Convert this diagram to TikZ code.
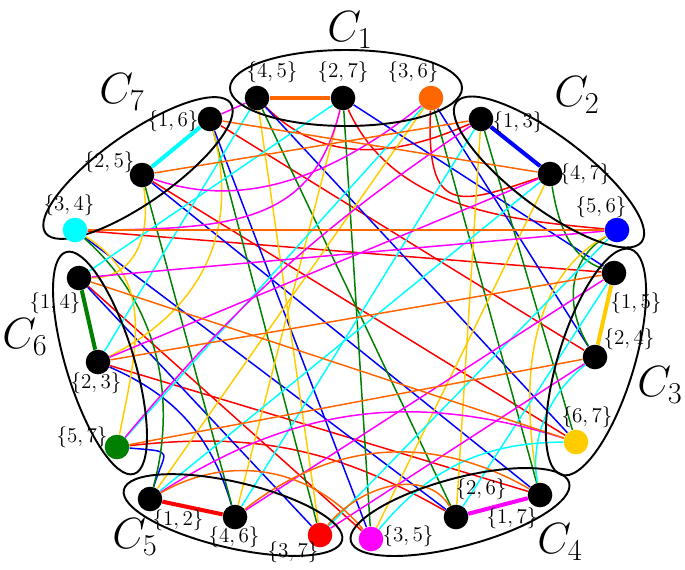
\documentclass[tikz,border=0pt]{standalone}
\usetikzlibrary{backgrounds}
\definecolor{corange}{RGB}{255,102,0}
\definecolor{cred}{RGB}{255,0,0}
\definecolor{cblue}{RGB}{0,0,255}
\definecolor{cyellow}{RGB}{255,204,0}
\definecolor{cmagenta}{RGB}{255,0,255}
\definecolor{cgreen}{RGB}{0,128,0}
\definecolor{ccyan}{RGB}{0,255,255}
\tikzset{
    vtx/.style={circle, fill=black, inner sep=0pt, minimum size=14pt},
    lab/.style={font=\fontsize{13}{15}\selectfont, inner sep=0pt},
    clab/.style={font=\fontsize{26}{30}\selectfont, inner sep=0pt},
    edge/.style={line width=0.85pt},
    thick edge/.style={line width=2.3pt},
    cluster/.style={draw, line width=1.1pt},
}
\begin{document}
\begin{tikzpicture}[x=0.02cm, y=-0.02cm]
    \useasboundingbox (0,0) rectangle (685,569);

    % vertices, cluster by cluster
    \node[vtx] (v45) at (257,98) {};
    \node[vtx] (v27) at (343,98) {};
    \node[vtx, fill=corange] (v36) at (431,98) {};
    \node[vtx] (v13) at (481,119) {};
    \node[vtx] (v47) at (550,174) {};
    \node[vtx, fill=cblue] (v56) at (617,230) {};
    \node[vtx] (v15) at (614,273) {};
    \node[vtx] (v24) at (595,357) {};
    \node[vtx, fill=cyellow] (v67) at (576,442) {};
    \node[vtx] (v17) at (540,495) {};
    \node[vtx] (v26) at (456,517) {};
    \node[vtx, fill=cmagenta] (v35) at (371,539) {};
    \node[vtx, fill=cred] (v37) at (320,535) {};
    \node[vtx] (v46) at (235,517) {};
    \node[vtx] (v12) at (150,499) {};
    \node[vtx, fill=cgreen] (v57) at (117,447) {};
    \node[vtx] (v23) at (98,362) {};
    \node[vtx] (v14) at (79,278) {};
    \node[vtx, fill=ccyan] (v34) at (75,230) {};
    \node[vtx] (v25) at (142,175) {};
    \node[vtx] (v16) at (210,119) {};

    % labels
    \node[lab] (l45) at (272,72) {$\{4,5\}$};
    \node[lab] (l27) at (343,72) {$\{2,7\}$};
    \node[lab] (l36) at (413,72) {$\{3,6\}$};
    \node[lab] (l13) at (518,122) {$\{1,3\}$};
    \node[lab] (l47) at (585,174) {$\{4,7\}$};
    \node[lab] (l56) at (601,207) {$\{5,6\}$};
    \node[lab] (l15) at (636,303) {$\{1,5\}$};
    \node[lab] (l24) at (629,339) {$\{2,4\}$};
    \node[lab] (l67) at (587,417) {$\{6,7\}$};
    \node[lab] (l26) at (481,489) {$\{2,6\}$};
    \node[lab] (l17) at (512,518) {$\{1,7\}$};
    \node[lab] (l35) at (408,536) {$\{3,5\}$};
    \node[lab] (l37) at (293,552) {$\{3,7\}$};
    \node[lab] (l46) at (234,537) {$\{4,6\}$};
    \node[lab] (l12) at (178,520) {$\{1,2\}$};
    \node[lab] (l57) at (82,437) {$\{5,7\}$};
    \node[lab] (l23) at (96,383) {$\{2,3\}$};
    \node[lab] (l14) at (55,303) {$\{1,4\}$};
    \node[lab] (l34) at (69,205) {$\{3,4\}$};
    \node[lab] (l25) at (109,162) {$\{2,5\}$};
    \node[lab] (l16) at (173,121) {$\{1,6\}$};

    % cluster names
    \node[clab] (c1) at (350,30) {$C_1$};
    \node[clab] (c2) at (577,95) {$C_2$};
    \node[clab] (c3) at (660,385) {$C_3$};
    \node[clab] (c4) at (560,542) {$C_4$};
    \node[clab] (c5) at (135,537) {$C_5$};
    \node[clab] (c6) at (25,337) {$C_6$};
    \node[clab] (c7) at (122,92) {$C_7$};

    \begin{scope}[on background layer]
    % edges, one colour at a time (a/b/bend)
    \foreach \a/\b/\bnd in {24/16/0, 15/34/0, 67/25/0, 35/14/0, 17/23/0, 26/57/-18}
        \draw[edge, cred] (v\a) to[bend left=\bnd] (v\b);
    \draw[edge, cred] (v36) .. controls +(-5,120) and +(-90,30) .. (v47);
    \draw[edge, cred] (v45) .. controls +(70,70) and +(-80,35) .. (v13);
    \draw[edge, cred] (v27) .. controls +(50,110) and +(-110,-10) .. (v56);

    \foreach \a/\b/\bnd in {27/15/0, 45/67/0, 36/24/0, 35/16/0, 26/34/0,
        17/25/0, 37/14/0, 46/23/-25}
        \draw[edge, cblue] (v\a) to[bend left=\bnd] (v\b);
    \draw[edge, cblue] (v57) .. controls +(60,5) and +(15,-50) .. (v12);

    \foreach \a/\b/\bnd in {27/35/0, 36/17/0, 45/26/0, 13/67/0, 46/25/0, 37/16/0}
        \draw[edge, cgreen] (v\a) to[bend left=\bnd] (v\b);
    \draw[edge, cgreen] (v47) .. controls +(10,60) and +(-40,-15) .. (v15);
    \draw[edge, cgreen] (v56) .. controls +(-50,30) and +(-30,-50) .. (v24);
    \draw[edge, cgreen] (v34) .. controls +(90,80) and +(25,-90) .. (v12);

    \foreach \a/\b/\bnd in {27/46/0, 36/12/0, 45/37/0, 13/26/0, 47/35/0}
        \draw[edge, cyellow] (v\a) to[bend left=\bnd] (v\b);
    \draw[edge, cyellow] (v56) .. controls +(-90,50) and +(-20,-110) .. (v17);
    \draw[edge, cyellow] (v34) .. controls +(80,50) and +(20,-100) .. (v57);
    \draw[edge, cyellow] (v25) .. controls +(10,70) and +(50,0) .. (v14);
    \draw[edge, cyellow] (v16) .. controls +(40,150) and +(60,-30) .. (v23);

    \foreach \a/\b/\bnd in {27/14/0, 45/23/0, 36/57/0, 13/46/0, 47/12/0,
        56/37/0, 15/26/0, 67/35/-25}
        \draw[edge, ccyan] (v\a) to[bend left=\bnd] (v\b);
    \draw[edge, ccyan] (v24) .. controls +(-50,40) and +(-10,-50) .. (v17);

    \foreach \a/\b/\bnd in {45/16/0, 13/57/-8, 47/23/0, 56/14/0, 24/37/0,
        15/46/0, 67/12/-25}
        \draw[edge, cmagenta] (v\a) to[bend left=\bnd] (v\b);
    \draw[edge, cmagenta] (v25) .. controls +(100,35) and +(-100,80) .. (v36);
    \draw[edge, cmagenta] (v34) .. controls +(170,0) and +(-30,120) .. (v27);

    \foreach \a/\b/\bnd in {13/25/0, 56/34/0, 47/16/0, 24/57/0, 15/23/0,
        67/14/0, 35/12/-40, 17/46/-34}
        \draw[edge, corange] (v\a) to[bend left=\bnd] (v\b);
    \draw[edge, corange] (v26) .. controls +(-30,-50) and +(40,-50) .. (v37);

    % the thick edge inside each cluster
    \draw[thick edge, corange] (v45) -- (v27);
    \draw[thick edge, cblue] (v13) -- (v47);
    \draw[thick edge, cyellow] (v15) -- (v24);
    \draw[thick edge, cmagenta] (v26) -- (v17);
    \draw[thick edge, cred] (v12) -- (v46);
    \draw[thick edge, cgreen] (v14) -- (v23);
    \draw[thick edge, ccyan] (v16) -- (v25);

    % clusters
    \draw[cluster] (346,88) ellipse [x radius=116, y radius=38];
    \draw[cluster, rotate around={-37:(549,172)}] (549,172) ellipse [x radius=116, y radius=36];
    \draw[cluster, rotate around={73:(596,362)}] (596,362) ellipse [x radius=118, y radius=38];
    \draw[cluster, rotate around={15:(460,512)}] (460,512) ellipse [x radius=113, y radius=34];
    \draw[cluster, rotate around={-13:(233,515)}] (233,515) ellipse [x radius=112, y radius=33];
    \draw[cluster, rotate around={107:(100,363)}] (100,363) ellipse [x radius=116, y radius=34];
    \draw[cluster, rotate around={35:(138,168)}] (138,168) ellipse [x radius=113, y radius=35];
    \end{scope}

\end{tikzpicture}
\end{document}
